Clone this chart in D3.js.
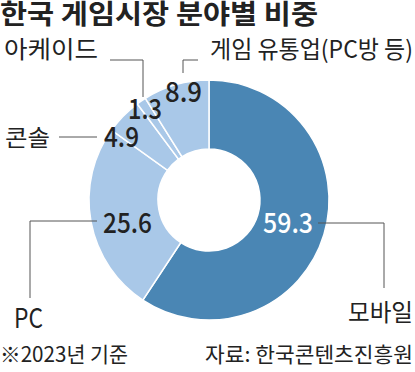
<!DOCTYPE html>
<html><head><meta charset="utf-8">
<script src="https://cdn.jsdelivr.net/npm/d3@7"></script>
<style>body{margin:0;background:#fff}svg{display:block}text{font-family:"Noto Sans CJK KR","Noto Sans",sans-serif}</style>
</head><body>
<script>
const categories = ["모바일","PC","콘솔","아케이드","게임 유통업(PC방 등)"];
const values = [59.3,25.6,4.9,1.3,8.9];
const valueLabels = ["59.3","25.6","4.9","1.3","8.9"];
const title = "한국 게임시장 분야별 비중";
const note = "※2023년 기준";
const source = "자료: 한국콘텐츠진흥원";

const W=415,H=372;
const svg=d3.select("body").append("svg").attr("width",W).attr("height",H);
const cx=209,cy=200,R=120,r=51;
const colors=["#4a86b4","#a9c8e8","#a9c8e8","#a9c8e8","#a9c8e8"];
const pie=d3.pie().sort(null).value(d=>d)(values);
const arc=d3.arc().innerRadius(r).outerRadius(R);
const g=svg.append("g").attr("transform",`translate(${cx},${cy})`);
g.selectAll("path").data(pie).join("path").attr("d",arc)
 .attr("fill",(d,i)=>colors[i]).attr("stroke","#fff").attr("stroke-width",1.5);

function txt(s,x,y,size,w,opts={}){
  const t=svg.append("text").attr("x",x).attr("y",y).attr("font-size",size)
   .attr("fill",opts.fill||"#222").attr("font-weight",opts.weight||400).text(s);
  if(w) t.attr("textLength",w).attr("lengthAdjust","spacingAndGlyphs");
  return t;
}
txt(title,0,24,27,318,{weight:700});
// category labels
txt(categories[3],4,58,24,94);
txt(categories[4],210,58,24,203);
txt(categories[2],5,146,23,45);
txt(categories[1],14,328,27,29);
txt(categories[0],348,321,24,65);
// value labels
const vpos=[[263,233,50,"#fff"],[103,233,49,"#222"],[104,147,35,"#222"],[128,119,34,"#222"],[165,102,37,"#222"]];
valueLabels.forEach((s,i)=>txt(s,vpos[i][0],vpos[i][1],28,vpos[i][2],{fill:vpos[i][3],weight:500}));
// leader lines
const lines=[
 [[110,60],[143,60],[143,97]],
 [[183,73],[183,60],[198,60]],
 [[59,137],[97,137]],
 [[97,221],[30,221],[30,298]],
 [[318,223],[384,223],[384,288]]
];
const line=d3.line();
lines.forEach(p=>svg.append("path").attr("d",line(p)).attr("fill","none").attr("stroke","#555").attr("stroke-width",1));
txt(note,0,362,21,128);
txt(source,205,362,21,208);
</script>
</body></html>
